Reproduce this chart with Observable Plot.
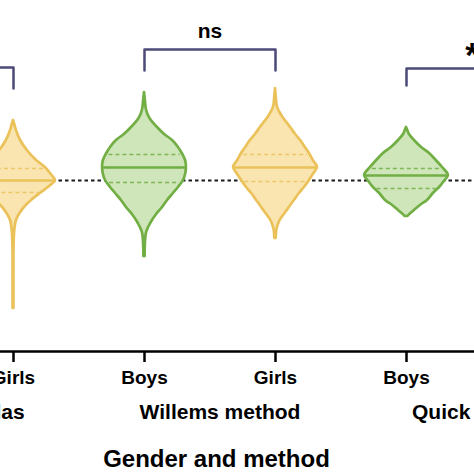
<!DOCTYPE html>
<html><head><meta charset="utf-8">
<script src="https://cdn.jsdelivr.net/npm/d3@7"></script>
<script src="https://cdn.jsdelivr.net/npm/@observablehq/plot@0.6"></script>
<style>
body{margin:0;overflow:hidden;background:#fff}
svg{font-family:"Liberation Sans",Arial,sans-serif}
</style>
</head><body><div id="chart"></div><script>
// Categories (index along x): 0 London Boys, 1 London Girls, 2 Willems Boys, 3 Willems Girls, 4 Quick Boys, 5 Quick Girls
const genderLabels = ["Boys","Girls","Boys","Girls","Boys","Girls"];
const methodLabels = ["London Atlas","Willems method","Quick method"];
const methodCenters = [0.5, 2.5, 4.5];
const xTitle = "Gender and method";

// Visible violins
const violinIndex = [1, 2, 3, 4];
const violinGender = ["Girls", "Boys", "Girls", "Boys"];

// Density profiles (y value, relative half-width)
const lgY = [1.5,1.4,1.25,1.0,0.75,0.5,0.325,0.15,0,-0.15,-0.325,-0.5,-0.675,-0.85,-1.0,-1.25,-1.75,-2.5,-3.2];
const lgW = [0,0.03,0.07,0.17,0.33,0.55,0.76,0.9,1,0.86,0.64,0.43,0.26,0.14,0.07,0.03,0.012,0.01,0.01];
const wbY = [2.2,2.0,1.75,1.55,1.325,1.15,1.0,0.825,0.675,0.5,0.325,0.15,0,-0.175,-0.325,-0.5,-0.675,-0.85,-1.0,-1.15,-1.3,-1.5,-1.9];
const wbW = [0,0.02,0.05,0.13,0.31,0.48,0.67,0.81,0.9,0.98,1,0.98,0.93,0.81,0.69,0.55,0.43,0.29,0.19,0.11,0.05,0.025,0.015];
const wgY = [2.3,2.125,1.825,1.575,1.325,1.15,1.0,0.825,0.675,0.5,0.325,0.15,0,-0.175,-0.325,-0.5,-0.675,-0.85,-1.0,-1.2,-1.45];
const wgW = [0,0.015,0.05,0.18,0.36,0.48,0.6,0.71,0.81,0.9,1,0.9,0.81,0.69,0.57,0.45,0.33,0.21,0.11,0.04,0.015];
const qbY = [1.325,1.25,1.15,1.0,0.825,0.675,0.5,0.325,0.125,-0.025,-0.175,-0.325,-0.5,-0.625,-0.75,-0.85,-0.9];
const qbW = [0,0.03,0.07,0.19,0.36,0.55,0.71,0.86,1,0.9,0.79,0.64,0.5,0.33,0.19,0.08,0.03];
const profilesY = [lgY, wbY, wgY, qbY];
const profilesW = [lgW, wbW, wgW, qbW];

// Summary lines
const medians = [0, 0.325, 0.325, 0.125];
const lowerQuartiles = [-0.3, -0.05, -0.025, -0.2];
const upperQuartiles = [0.3, 0.65, 0.65, 0.3];

// Significance brackets
const bracketFrom = [0, 2, 4];
const bracketTo = [1, 3, 5];
const bracketTop = [2.825, 3.275, 2.8];
const bracketDrop = [2.3, 2.75, 2.375];
const bracketLabels = ["*", "ns", "*"];

const colors = {
  Boys: {fill: "#cfe6bb", stroke: "#71ae43"},
  Girls: {fill: "#fae5b1", stroke: "#ebc25a"}
};
const HW = 0.32;
const FONT = "Liberation Sans, Arial, sans-serif";

function widthAt(Y, W, v) {
  for (let i = 0; i < Y.length - 1; i++) {
    if ((Y[i] >= v && v >= Y[i+1])) {
      const t = (Y[i] - v) / (Y[i] - Y[i+1]);
      return W[i] + t * (W[i+1] - W[i]);
    }
  }
  return 0;
}

const marks = [];
marks.push(Plot.ruleY([0], {stroke: "#1a1a1a", strokeWidth: 2, strokeDasharray: "3.5,3"}));

violinIndex.forEach((c, k) => {
  const col = colors[violinGender[k]];
  const Y = profilesY[k], W = profilesW[k];
  const pts = Y.map((y, i) => ({y, w: W[i]}));
  marks.push(Plot.areaX(pts, {
    y: "y", x1: d => c - d.w * HW, x2: d => c + d.w * HW,
    fill: col.fill, stroke: col.stroke, strokeWidth: 2.7, curve: "catmull-rom", strokeLinejoin: "round"
  }));
  const qs = [lowerQuartiles[k], upperQuartiles[k]].map(v => ({v, w: widthAt(Y, W, v)}));
  marks.push(Plot.ruleY(qs, {
    y: "v", x1: d => c - d.w * HW + 0.02, x2: d => c + d.w * HW - 0.02,
    stroke: col.stroke, strokeWidth: 1.5, strokeDasharray: "4,3", strokeOpacity: 0.85
  }));
  const m = {v: medians[k], w: widthAt(Y, W, medians[k])};
  marks.push(Plot.ruleY([m], {
    y: "v", x1: d => c - d.w * HW, x2: d => c + d.w * HW,
    stroke: col.stroke, strokeWidth: 2.7
  }));
});

bracketFrom.forEach((a, k) => {
  const b = bracketTo[k];
  const pts = [{x: a, y: bracketDrop[k]}, {x: a, y: bracketTop[k]}, {x: b, y: bracketTop[k]}, {x: b, y: bracketDrop[k]}];
  marks.push(Plot.line(pts, {x: "x", y: "y", stroke: "#4b4a78", strokeWidth: 2.5}));
});
const bracketText = bracketLabels.map((t, k) => ({t, x: (bracketFrom[k] + bracketTo[k]) / 2, y: bracketTop[k]}));
marks.push(Plot.text(bracketText.filter(d => d.t !== "*"), {
  x: "x", y: "y", text: "t", lineAnchor: "bottom", dy: -12,
  fontSize: 21, fontWeight: "bold", fill: "#000", fontFamily: FONT
}));
marks.push(Plot.text(bracketText.filter(d => d.t === "*"), {
  x: "x", y: "y", text: "t", lineAnchor: "bottom", dy: -2,
  fontSize: 35, fontWeight: "bold", fill: "#000", fontFamily: FONT
}));

// x axis
marks.push(Plot.frame({anchor: "bottom", stroke: "#000", strokeWidth: 2.5}));
marks.push(Plot.axisX({
  ticks: [0,1,2,3,4,5], tickFormat: i => genderLabels[i], tickSize: 11, tickPadding: 8,
  strokeWidth: 2.5, stroke: "#000", fill: "#000", fontSize: 19, fontWeight: "bold", fontFamily: FONT, label: null
}));
marks.push(Plot.axisX({
  ticks: methodCenters, tickFormat: (v) => methodLabels[methodCenters.indexOf(v)], tickSize: 0, tickPadding: 53,
  dx: 10, fill: "#000", fontSize: 21, fontWeight: "bold", fontFamily: FONT, label: null
}));
marks.push(Plot.text([xTitle], {
  frameAnchor: "bottom", dy: 115, dx: -21, lineAnchor: "bottom",
  fontSize: 24, fontWeight: "bold", fill: "#000", fontFamily: FONT
}));

const chart = Plot.plot({
  width: 474, height: 474,
  marginTop: 0, marginBottom: 123, marginLeft: 0, marginRight: 0,
  x: {type: "linear", domain: [1 - 13/131, 1 + 461/131]},
  y: {type: "linear", domain: [-4.275, 4.5], axis: null},
  style: {background: "#fff", overflow: "visible"},
  marks
});
document.getElementById("chart").appendChild(chart);
</script></body></html>
